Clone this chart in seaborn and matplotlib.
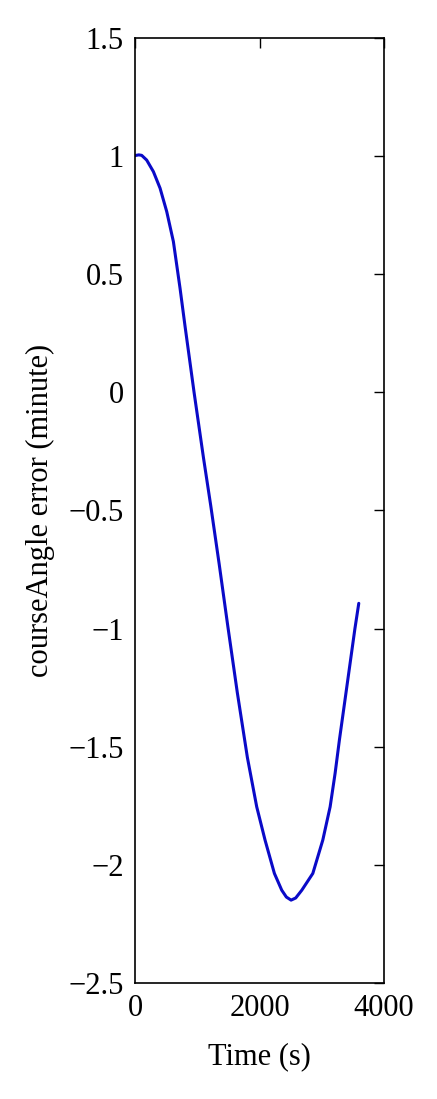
import numpy as np
import pandas as pd
import seaborn as sns
import matplotlib
matplotlib.use("Agg")
import matplotlib.pyplot as plt

# values
time_s = [0, 60, 107, 187, 295, 402, 509, 616, 723, 803, 948, 1098, 1216,
          1353, 1490, 1642, 1804, 1954, 2088, 2238, 2356, 2430, 2506, 2580,
          2678, 2855, 3015, 3133, 3213, 3282, 3362, 3531, 3593]
err_min = [1.002, 1.005, 1.003, 0.983, 0.934, 0.864, 0.765, 0.638, 0.440,
           0.280, 0.000, -0.275, -0.480, -0.730, -0.990, -1.270, -1.545,
           -1.754, -1.895, -2.036, -2.107, -2.136, -2.149, -2.140,
           -2.107, -2.036, -1.895, -1.754, -1.612, -1.471, -1.320, -1.000,
           -0.893]

xticks = [0, 2000, 4000]
yticks = [-2.5, -2, -1.5, -1, -0.5, 0, 0.5, 1, 1.5]
ytick_labels = ['\u22122.5', '\u22122', '\u22121.5', '\u22121', '\u22120.5',
                '0', '0.5', '1', '1.5']

sns.set_style("white")
plt.rcParams['font.family'] = ['Liberation Serif', 'DejaVu Serif']
plt.rcParams['text.color'] = 'black'
plt.rcParams['axes.labelcolor'] = 'black'

df = pd.DataFrame({'Time (s)': time_s, 'err': err_min})

fig = plt.figure(figsize=(4.37, 10.99), dpi=100)
ax = fig.add_axes([0.309, 0.1055, 0.570, 0.860])
sns.lineplot(data=df, x='Time (s)', y='err', sort=False, estimator=None,
             color='#0a0ac8', linewidth=2.2, ax=ax)

ax.set_xlim(0, 4000)
ax.set_ylim(-2.5, 1.5)
ax.set_xticks(xticks)
ax.set_yticks(yticks)
ax.set_yticklabels(ytick_labels)
ax.tick_params(direction='in', length=7, width=1, top=True, right=True,
               labelsize=22, pad=8, colors='black')
for s in ax.spines.values():
    s.set_linewidth(1.2)
    s.set_color('black')
ax.set_xlabel('Time (s)', fontsize=22, labelpad=14)
ax.set_ylabel('courseAngle error (minute)', fontsize=22, labelpad=10)

fig.savefig('out.png', dpi=100)
